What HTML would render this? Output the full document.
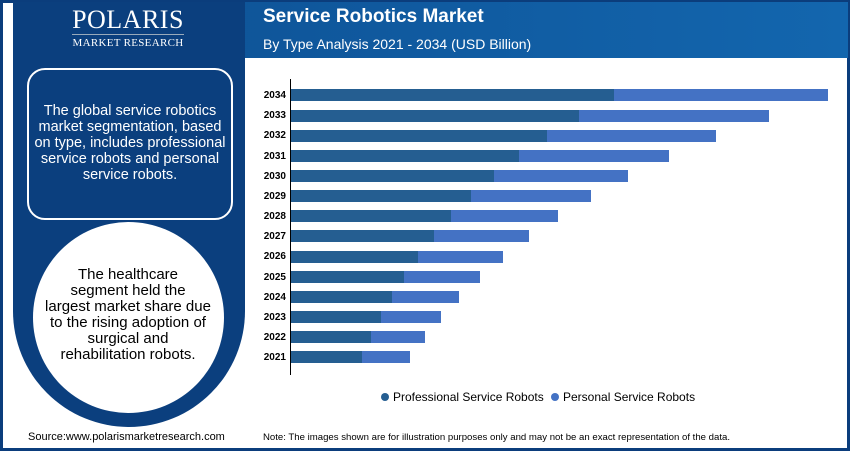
<!DOCTYPE html>
<html><head><style>
*{margin:0;padding:0;box-sizing:border-box}
body{width:850px;height:451px;overflow:hidden;background:#0b3d7c;font-family:"Liberation Sans",sans-serif;position:relative}
.abs{position:absolute}
</style></head><body>
<div class="abs" style="left:3px;top:3px;width:844px;height:445px;background:#fff"></div>
<div class="abs" style="left:13px;top:2px;width:835px;height:56px;background:linear-gradient(90deg,#0d4f92,#1366ae)"></div>
<div class="abs" style="left:13px;top:2px;width:232px;height:425px;background:#0b3f7e;border-radius:0 0 116px 116px"></div>
<div class="abs" style="left:33px;top:222px;width:191px;height:191px;background:#fff;border-radius:50%"></div>
<div class="abs" style="left:68px;top:5px;width:120px;text-align:center;color:#fff;font-family:'Liberation Serif',serif;font-size:26px;letter-spacing:0.5px">POLARIS</div>
<div class="abs" style="left:72px;top:34px;width:112px;border-top:1px solid #9ab;"></div>
<div class="abs" style="left:68px;top:37px;width:120px;text-align:center;color:#fff;font-family:'Liberation Serif',serif;font-size:11px;letter-spacing:0.3px">MARKET RESEARCH</div>
<div class="abs" style="left:27px;top:68px;width:206px;height:152px;border:2px solid #fff;border-radius:18px;color:#fff;font-size:14.5px;line-height:16px;text-align:center;padding-top:33px">The global service robotics market segmentation, based on type, includes professional service robots and personal service robots.</div>
<div class="abs" style="left:40px;top:267px;width:176px;color:#000;font-size:15px;line-height:16px;text-align:center">The healthcare<br>segment held the<br>largest market share due<br>to the rising adoption of<br>surgical and<br>rehabilitation robots.</div>
<div class="abs" style="left:263px;top:6px;color:#fff;font-weight:bold;font-size:19px">Service Robotics Market</div>
<div class="abs" style="left:263px;top:36px;color:#fff;font-size:14px">By Type Analysis 2021 - 2034 (USD Billion)</div>
<div class="abs" style="left:28px;top:431px;font-size:11px;color:#000">Source:www.polarismarketresearch.com</div>
<div class="abs" style="left:263px;top:432px;font-size:9.6px;color:#000">Note: The images shown are for illustration purposes only and may not be an exact representation of the data.</div>
<svg class="abs" style="left:0;top:0" width="850" height="451">
<line x1="290.5" y1="79" x2="290.5" y2="375" stroke="#000" stroke-width="1"/>
<circle cx="385" cy="397" r="4" fill="#255e91"/><text x="393" y="401" font-size="12" font-family="Liberation Sans">Professional Service Robots</text>
<circle cx="555" cy="397" r="4" fill="#4472c4"/><text x="563" y="401" font-size="12" font-family="Liberation Sans">Personal Service Robots</text>
<g font-size="10" font-weight="bold" text-anchor="end" font-family="Liberation Sans">
<rect x="291" y="89" width="323" height="12" fill="#255e91"/><rect x="614" y="89" width="214" height="12" fill="#4472c4"/><text x="286" y="98">2034</text>
<rect x="291" y="110" width="288" height="12" fill="#255e91"/><rect x="579" y="110" width="190" height="12" fill="#4472c4"/><text x="286" y="118">2033</text>
<rect x="291" y="130" width="256" height="12" fill="#255e91"/><rect x="547" y="130" width="169" height="12" fill="#4472c4"/><text x="286" y="138">2032</text>
<rect x="291" y="150" width="228" height="12" fill="#255e91"/><rect x="519" y="150" width="150" height="12" fill="#4472c4"/><text x="286" y="159">2031</text>
<rect x="291" y="170" width="203" height="12" fill="#255e91"/><rect x="494" y="170" width="134" height="12" fill="#4472c4"/><text x="286" y="179">2030</text>
<rect x="291" y="190" width="180" height="12" fill="#255e91"/><rect x="471" y="190" width="120" height="12" fill="#4472c4"/><text x="286" y="199">2029</text>
<rect x="291" y="210" width="160" height="12" fill="#255e91"/><rect x="451" y="210" width="107" height="12" fill="#4472c4"/><text x="286" y="219">2028</text>
<rect x="291" y="230" width="143" height="12" fill="#255e91"/><rect x="434" y="230" width="95" height="12" fill="#4472c4"/><text x="286" y="239">2027</text>
<rect x="291" y="251" width="127" height="12" fill="#255e91"/><rect x="418" y="251" width="85" height="12" fill="#4472c4"/><text x="286" y="259">2026</text>
<rect x="291" y="271" width="113" height="12" fill="#255e91"/><rect x="404" y="271" width="76" height="12" fill="#4472c4"/><text x="286" y="280">2025</text>
<rect x="291" y="291" width="101" height="12" fill="#255e91"/><rect x="392" y="291" width="67" height="12" fill="#4472c4"/><text x="286" y="300">2024</text>
<rect x="291" y="311" width="90" height="12" fill="#255e91"/><rect x="381" y="311" width="60" height="12" fill="#4472c4"/><text x="286" y="320">2023</text>
<rect x="291" y="331" width="80" height="12" fill="#255e91"/><rect x="371" y="331" width="54" height="12" fill="#4472c4"/><text x="286" y="340">2022</text>
<rect x="291" y="351" width="71" height="12" fill="#255e91"/><rect x="362" y="351" width="48" height="12" fill="#4472c4"/><text x="286" y="360">2021</text>
</g>
</svg>
</body></html>
